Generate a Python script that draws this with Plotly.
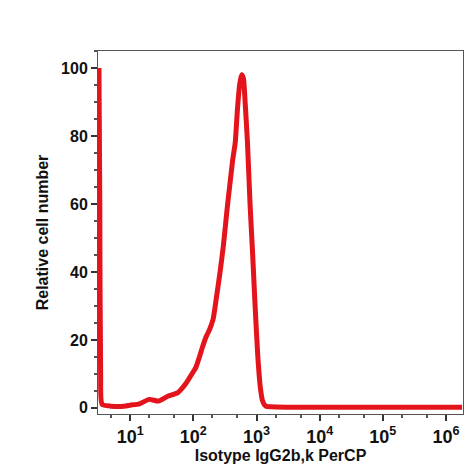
import plotly.graph_objects as go

intensity = [3.2, 3.3, 3.4, 3.6, 5, 8, 10, 14, 20, 28, 40, 57, 75, 95, 110, 125, 140, 160, 180,
             205, 230, 265, 300, 340, 380, 420, 460, 500, 540, 580, 620, 660, 720, 790, 870,
             950, 1050, 1150, 1250, 1400, 1700, 3000, 10000, 100000, 1000000, 1800000]
cells = [100, 60, 10, 1, 0.5, 0.5, 0.8, 1.2, 2.5, 2.0, 3.5, 4.5, 7, 10, 12, 15, 18, 21, 23,
         26, 32, 40, 48, 58, 66, 73, 78, 88, 95, 98, 97, 90, 78, 60, 45, 30, 15, 6, 2, 0.5,
         0.3, 0.2, 0.2, 0.2, 0.2, 0.2]
x_ticks = [10, 100, 1000, 10000, 100000, 1000000]
x_labels = ["10<sup>1</sup>", "10<sup>2</sup>", "10<sup>3</sup>", "10<sup>4</sup>", "10<sup>5</sup>", "10<sup>6</sup>"]
y_ticks = [0, 20, 40, 60, 80, 100]

fig = go.Figure(go.Scatter(x=intensity, y=cells, mode="lines",
                           line=dict(color="#e3141b", width=5, shape="spline", smoothing=0.6)))
font = dict(family="Liberation Sans, Arial", size=16, color="#111", weight="bold")
fig.update_layout(
    width=474, height=474, margin=dict(l=90, r=19, t=43, b=68, autoexpand=False),
    plot_bgcolor="white", paper_bgcolor="white", showlegend=False, font=font,
    xaxis=dict(type="log", range=[0.49, 6.27], tickvals=x_ticks, ticktext=x_labels,
               ticks="outside", ticklen=6, tickwidth=1.5, tickcolor="#333", automargin=False,
               showgrid=False, zeroline=False, showline=True, linecolor="#555", mirror=True,
               minor=dict(ticks="outside", ticklen=3, tickcolor="#555", showgrid=False),
               title=dict(text="Isotype IgG2b,k PerCP", font=dict(size=16, weight="bold"), standoff=4),
               tickfont=dict(size=18, weight="bold")),
    yaxis=dict(range=[-1.8, 105], tickvals=y_ticks, ticks="outside", ticklen=6, tickwidth=1.5,
               tickcolor="#333", showgrid=False, zeroline=False, showline=True, linecolor="#555",
               mirror=True, automargin=False, minor=dict(ticks="outside", ticklen=3, dtick=5, tickcolor="#555"),
               title=dict(text="Relative cell number", font=dict(size=16, weight="bold"), standoff=8),
               tickfont=dict(size=16, weight="bold")),
)
fig.write_html("out.html")
